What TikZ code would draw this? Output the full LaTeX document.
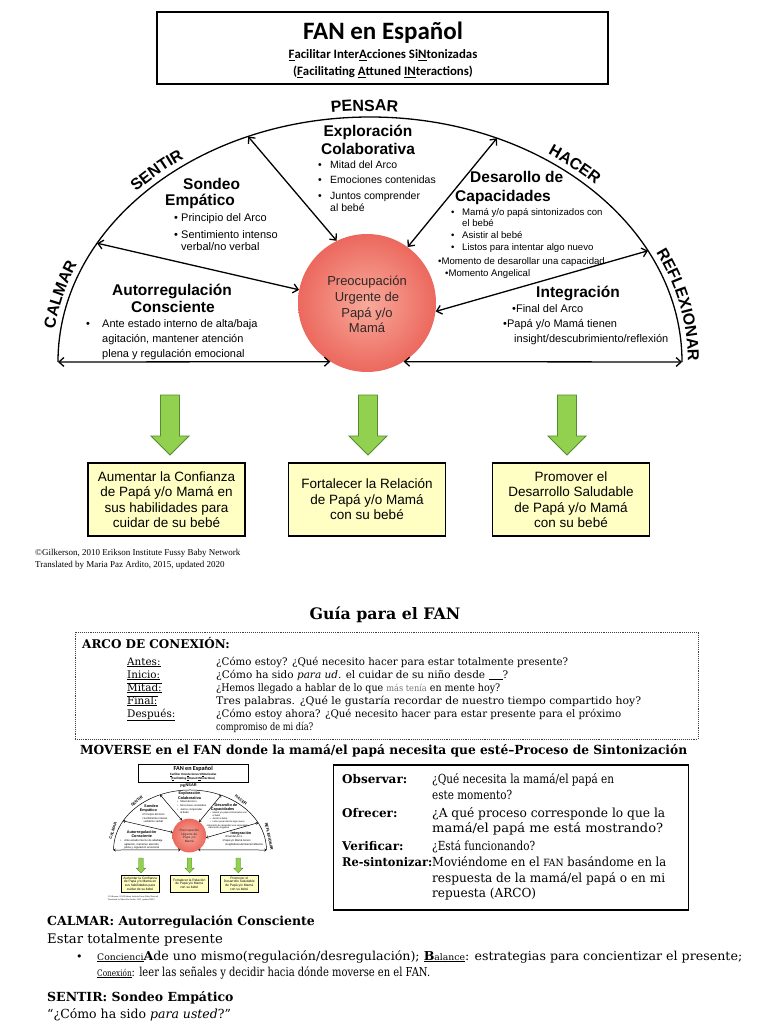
\documentclass[tikz,border=0pt]{standalone}
\usepackage{fontspec}
\usepackage{graphicx}
\setmainfont{DejaVu Serif}
\newfontfamily\calfont{Carlito}
\newfontfamily\arial{Liberation Sans}
\newfontfamily\camb{DejaVu Serif}
\newfontfamily\tnr{Liberation Serif}
\usetikzlibrary{arrows.meta,decorations.text}

\definecolor{boxyellow}{RGB}{255,255,196}
\definecolor{arrgreen}{RGB}{146,208,80}
\definecolor{arrgreenD}{RGB}{88,138,48}
\definecolor{circL}{RGB}{248,170,155}
\definecolor{circD}{RGB}{236,104,94}
\definecolor{circtext}{RGB}{50,40,40}

\newcommand\fs[1]{\fontsize{#1}{#1}\selectfont}
\newcommand\TL[4]{\node[anchor=base west,inner sep=0pt,font=#3] (#1) at (#2) {#4};}
\newcommand\TC[4]{\node[anchor=base,inner sep=0pt,font=#3] (#1) at (#2) {#4};}
\newcommand\fitw[2]{\resizebox{#1pt}{\height}{#2}}
\newcommand\bul[1]{\makebox[#1pt][l]{\textbullet}}
\newif\ifmaindiag
\def\alw{1.3pt}\def\blw{1.5pt}\def\arl{5pt}\def\arw{9pt}\def\glw{0.8pt}
\newcommand\lab{\arial\bfseries\fs{16}}

\newcommand\garrow[1]{\filldraw[fill=arrgreen,draw=arrgreenD,line width=\glw] (#1-9.5,395) -- (#1+9.5,395) -- (#1+9.5,436) -- (#1+19,436) -- (#1,455) -- (#1-19,436) -- (#1-9.5,436) -- cycle;}

\newcommand\fandiagram{%
% title
\node[draw,line width=\blw,minimum width=451,minimum height=72,inner sep=0pt] (tbox) at (382.5,48) {};
\TC{t1}{383,39.5}{\calfont\bfseries\fs{25}}{FAN en Español}
\TC{t2}{383,59}{\calfont\bfseries\fs{12.8}}{\underline{F}acilitar Inter\underline{A}cciones Si\underline{N}tonizadas}
\TC{t3}{383,76}{\calfont\bfseries\fs{12.8}}{(\underline{F}acilitating \underline{A}ttuned \underline{IN}teractions)}
% arc
\coordinate (L) at (58,362);
\coordinate (R) at (682,362);
\draw[line width=\alw] (L) arc[start angle=180,end angle=360,x radius=312,y radius=245];
\coordinate (p1) at ([shift={(370,362)}]-151:312 and 245);
\coordinate (p2) at ([shift={(370,362)}]-113:312 and 245);
\coordinate (p3) at ([shift={(370,362)}]-66:312 and 245);
\coordinate (p4) at ([shift={(370,362)}]-27:312 and 245);
% circle
\node[circle,minimum size=138,inner sep=0pt,inner color=circL,outer color=circD] (circ) at (367,303) {};
\node[anchor=base,inner sep=0pt,font=\arial\fs{13},text=circtext] (c1) at (367,285) {Preocupación};
\node[anchor=base,inner sep=0pt,font=\arial\fs{13},text=circtext] (c2) at (367,301) {Urgente de};
\node[anchor=base,inner sep=0pt,font=\arial\fs{13},text=circtext] (c3) at (367,317) {Papá y/o};
\node[anchor=base,inner sep=0pt,font=\arial\fs{13},text=circtext] (c4) at (367,332) {Mamá};
% connectors
\draw[conn] (p1) -- (circ.169);
\draw[conn] (p2) -- (circ.116);
\draw[conn] (p3) -- (circ.54);
\draw[conn] (p4) -- (circ.-7);
\draw[conn] (L) -- (circ.238);
\draw[conn] (circ.302) -- (R);
% arc labels
\ifmaindiag
\path[decorate,decoration={text along path,text align=center,text={|\lab|CALMAR}}] ([shift={(370,362)}]-181:318 and 251) arc[start angle=-181,end angle=-149,x radius=318,y radius=251];
\path[decorate,decoration={text along path,text align=center,text={|\lab|SENTIR}}] ([shift={(370,362)}]-148:318 and 251) arc[start angle=-148,end angle=-116,x radius=318,y radius=251];
\path[decorate,decoration={text along path,text align=center,text={|\lab|PENSAR}}] ([shift={(370,362)}]-107:318 and 251) arc[start angle=-107,end angle=-75,x radius=318,y radius=251];
\path[decorate,decoration={text along path,text align=center,text={|\lab|HACER}}] ([shift={(370,362)}]-66:318 and 251) arc[start angle=-66,end angle=-34,x radius=318,y radius=251];
\path[decorate,decoration={text along path,text align=center,text={|\lab|REFLEXIONAR}}] ([shift={(370,362)}]-40:318 and 251) arc[start angle=-40,end angle=15,x radius=318,y radius=251];
\else
\node[font=\lab,rotate=72] (lcal) at (56,284) {CALMAR};
\node[font=\lab,rotate=41] (lsen) at (153,163) {SENTIR};
\node[font=\lab,rotate=1] (lpen) at (364,99) {PENSAR};
\node[font=\lab,rotate=-39] (lhac) at (578,158) {HACER};
\node[font=\lab,rotate=-78] (lref) at (693,307) {REFLEXIONAR};
\fi
% Exploracion
\TC{ex1}{368,137}{\arial\bfseries\fs{15.5}}{Exploración}
\TC{ex2}{368,155}{\arial\bfseries\fs{15.5}}{Colaborativa}
\TL{ex3}{318,169}{\arial\fs{10.5}}{\bul{12}Mitad del Arco}
\TL{ex4}{318,184}{\arial\fs{10.5}}{\bul{12}Emociones contenidas}
\TL{ex5}{318,200}{\arial\fs{10.5}}{\bul{12}Juntos comprender}
\TL{ex6}{330,212}{\arial\fs{10.5}}{al bebé}
% Sondeo
\TL{so1}{183,190}{\arial\bfseries\fs{15.5}}{Sondeo}
\TL{so2}{165,206}{\arial\bfseries\fs{15.5}}{Empático}
\TL{so3}{174,222}{\arial\fs{11}}{\bul{7}Principio del Arco}
\TL{so4}{174,238}{\arial\fs{11}}{\bul{7}Sentimiento intenso}
\TL{so5}{181,251}{\arial\fs{11}}{verbal/no verbal}
% Autorregulacion
\TC{au1}{172,295}{\arial\bfseries\fs{15.5}}{Autorregulación}
\TC{au2}{173,312}{\arial\bfseries\fs{15.5}}{Consciente}
\TL{au3}{86,327}{\arial\fs{11}}{\bul{16}Ante estado interno de alta/baja}
\TL{au4}{102,342}{\arial\fs{11}}{agitación, mantener atención}
\TL{au5}{102,357}{\arial\fs{11}}{plena y regulación emocional}
% Desarollo
\TL{de1}{470,183}{\arial\bfseries\fs{15.5}}{Desarollo de}
\TL{de2}{455,202}{\arial\bfseries\fs{15.5}}{Capacidades}
\TL{de3}{451,215}{\arial\fs{9.6}}{\bul{11}Mamá y/o papá sintonizados con}
\TL{de4}{462,226}{\arial\fs{9.6}}{el bebé}
\TL{de5}{451,238}{\arial\fs{9.6}}{\bul{11}Asistir al bebé}
\TL{de6}{451,251}{\arial\fs{9.6}}{\bul{11}Listos para intentar algo nuevo}
\TL{de7}{438,264}{\arial\fs{9.6}}{\textbullet Momento de desarollar una capacidad}
\TL{de8}{445,276}{\arial\fs{9.6}}{\textbullet Momento Angelical}
% Integracion
\TC{in1}{578,297}{\arial\bfseries\fs{15.5}}{Integración}
\TL{in2}{512,312}{\arial\fs{11}}{\textbullet Final del Arco}
\TL{in3}{503,327}{\arial\fs{11}}{\textbullet Papá y/o Mamá tienen}
\TL{in4}{514,342}{\arial\fs{11}}{insight/descubrimiento/reflexión}
% green arrows and boxes
\garrow{170}\garrow{368}\garrow{567}
\node[ybox] (b1) at (166.5,499.5) {Aumentar la Confianza\\de Papá y/o Mamá en\\sus habilidades para\\cuidar de su bebé};
\node[ybox] (b2) at (367,499.5) {Fortalecer la Relación\\de Papá y/o Mamá\\con su bebé};
\node[ybox] (b3) at (571,499.5) {Promover el\\Desarrollo Saludable\\de Papá y/o Mamá\\con su bebé};
\TL{cp1}{35,555}{\tnr\fs{9}}{©Gilkerson, 2010 Erikson Institute Fussy Baby Network}
\TL{cp2}{35,567}{\tnr\fs{9}}{Translated by Maria Paz Ardito, 2015, updated 2020}
}

\begin{document}
\begin{tikzpicture}[x=1pt,y=-1pt,
  conn/.style={line width=\alw,{Straight Barb[length=\arl,width=\arw]}-{Straight Barb[length=\arl,width=\arw]}},
  ybox/.style={draw,line width=\blw,fill=boxyellow,minimum width=157,minimum height=73,inner sep=0pt,align=center,font=\arial\fontsize{13.5}{15.5}\selectfont},
  rowf/.style={}]
\useasboundingbox[fill=white] (0,0) rectangle (768,1024);
\maindiagtrue
\fandiagram

% ---------- lower part ----------
\TC{guia}{385,619}{\camb\bfseries\fs{15.8}}{Guía para el FAN}
\node[draw=black!75,densely dotted,line width=0.9pt,minimum width=623,minimum height=107,inner sep=0pt] (dbox) at (386.5,685.5) {};
\TL{arco}{82,648}{\camb\bfseries\fs{12}}{ARCO DE CONEXIÓN:}
\TL{r1l}{127,665}{\camb\fs{10.4}}{\underline{Antes:}}
\TL{r1t}{216,665}{\camb\fs{10.4}}{\fitw{352}{¿Cómo estoy? ¿Qué necesito hacer para estar totalmente presente?}}
\TL{r2l}{127,678}{\camb\fs{10.4}}{\underline{Inicio:}}
\TL{r2t}{216,678}{\camb\fs{10.4}}{\fitw{292}{¿Cómo ha sido \textit{para ud.} el cuidar de su niño desde \underline{\hspace{14pt}}?}}
\TL{r3l}{127,691}{\camb\fs{10.4}}{\underline{Mitad:}}
\TL{r3t}{216,691}{\camb\fs{10.4}}{\fitw{284}{¿Hemos llegado a hablar de lo que {\color{black!55}\fs{9}más tenía} en mente hoy?}}
\TL{r4l}{127,704}{\camb\fs{10.4}}{\underline{Final:}}
\TL{r4t}{216,704}{\camb\fs{10.4}}{\fitw{425}{Tres palabras. ¿Qué le gustaría recordar de nuestro tiempo compartido hoy?}}
\TL{r5l}{127,717}{\camb\fs{10.4}}{\underline{Después:}}
\TL{r5t}{216,717}{\camb\fs{10.4}}{\fitw{405}{¿Cómo estoy ahora? ¿Qué necesito hacer para estar presente para el próximo}}
\TL{r6t}{216,730}{\camb\fs{10.4}}{\fitw{97}{compromiso de mi día?}}
\draw[line width=0.6pt] (r3l.north west) -- (r3l.north east);
\draw[line width=0.6pt] (r4l.north west) -- (r4l.north east);
\TL{moverse}{80,754}{\camb\bfseries\fs{12.5}}{\fitw{607}{MOVERSE en el FAN donde la mamá/el papá necesita que esté–Proceso de Sintonización}}

% thumbnail
\begin{scope}[shift={(190,850)},scale=0.245,transform shape,shift={(-370,-362)}]
\maindiagfalse\def\alw{0.5pt}\def\blw{0.4pt}\def\arl{1.6pt}\def\arw{2.6pt}\def\glw{0.3pt}
\fandiagram
\end{scope}

% right box
\node[draw,line width=1.2pt,minimum width=355,minimum height=145,inner sep=0pt] (obox) at (511,837.5) {};
\TL{ob1}{342,783}{\camb\bfseries\fs{12}}{Observar:}
\TL{ob2}{432,783}{\camb\fs{12.5}}{\fitw{182}{¿Qué necesita la mamá/el papá en}}
\TL{ob3}{432,799}{\camb\fs{12.5}}{\fitw{80}{este momento?}}
\TL{of1}{342,817}{\camb\bfseries\fs{12}}{Ofrecer:}
\TL{of2}{432,817}{\camb\fs{12.5}}{\fitw{233}{¿A qué proceso corresponde lo que la}}
\TL{of3}{432,832}{\camb\fs{12.5}}{\fitw{231}{mamá/el papá me está mostrando?}}
\TL{ve1}{342,850}{\camb\bfseries\fs{12}}{Verificar:}
\TL{ve2}{432,850}{\camb\fs{12.5}}{\fitw{103}{¿Está funcionando?}}
\TL{re1}{342,866}{\camb\bfseries\fs{12}}{\fitw{90}{Re-sintonizar:}}
\TL{re2}{432,866}{\camb\fs{12.5}}{\fitw{234}{Moviéndome en el {\fs{10}FAN} basándome en la}}
\TL{re3}{432,882}{\camb\fs{12.5}}{\fitw{233}{respuesta de la mamá/el papá o en mi}}
\TL{re4}{432,897}{\camb\fs{12.5}}{\fitw{104}{repuesta (ARCO)}}

% bottom text
\TL{calm}{47,925}{\camb\bfseries\fs{12.5}}{CALMAR: Autorregulación Consciente}
\TL{estar}{47,943}{\camb\fs{13.2}}{Estar totalmente presente}
\TL{bu1}{76,960}{\camb\fs{11}}{\textbullet}
\TL{bl1}{97,960}{\camb\fs{12.3}}{\fitw{645}{\underline{\fs{9}Concienci}{\bfseries A}de uno mismo(regulación/desregulación); \underline{{\bfseries B}\fs{9}alance}: estrategias para concientizar el presente;}}
\TL{bl2}{97,976}{\camb\fs{12.3}}{\fitw{333}{\underline{\fs{9}Conexión}: leer las señales y decidir hacia dónde moverse en el FAN.}}
\TL{sent}{47,1001}{\camb\bfseries\fs{12.5}}{SENTIR: Sondeo Empático}
\TL{como}{47,1018}{\camb\fs{12.5}}{“¿Cómo ha sido \textit{para usted}?”}
\end{tikzpicture}
\end{document}
